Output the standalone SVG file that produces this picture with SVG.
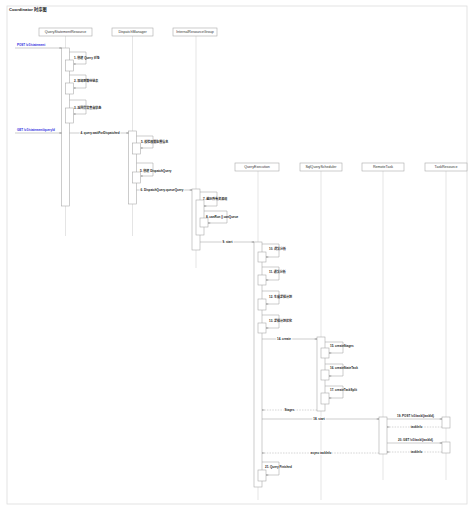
<svg xmlns="http://www.w3.org/2000/svg" width="474" height="511" viewBox="0 0 474 511">
<style>
text{font-family:"Liberation Sans",Arial,"Noto Sans CJK SC",sans-serif;}
.title{font-size:4.2px;font-weight:bold;fill:#222;}
.hdr rect{fill:#fff;stroke:#aaa;stroke-width:0.6;}
.hdr text{font-size:3.6px;fill:#333;text-anchor:middle;}
.life{stroke:#d4d4d4;stroke-width:0.6;fill:none;}
.act{fill:#fff;stroke:#aaa;stroke-width:0.6;}
.msg{stroke:#999;stroke-width:0.5;fill:none;marker-end:url(#ah);}
.ret{stroke:#aaa;stroke-width:0.5;fill:none;stroke-dasharray:1.5 1.2;marker-end:url(#ah);}
.lbl{font-size:3px;font-weight:bold;fill:#222;}
.onl{text-anchor:middle;paint-order:stroke;stroke:#fff;stroke-width:2px;}
.mid{text-anchor:middle;}
.blue{font-size:3px;font-weight:bold;fill:#2a2ae0;}
</style>
<defs>
<marker id="ah" viewBox="0 0 4 4" refX="4" refY="2" markerWidth="2.6" markerHeight="2.6" markerUnits="userSpaceOnUse" orient="auto">
<path d="M0,0.3 L4,2 L0,3.7" fill="none" stroke="#888" stroke-width="0.7"/>
</marker>
</defs>
<rect x="0" y="0" width="474" height="511" fill="#fff"/>
<rect x="7" y="6" width="460" height="498" fill="#fff" stroke="#ddd" stroke-width="0.8"/>
<text class="title" x="9" y="11">Coordinator 时序图</text>

<g id="lifelines">
<line class="life" x1="65.5" y1="36" x2="65.5" y2="236"/>
<line class="life" x1="132.5" y1="36" x2="132.5" y2="236"/>
<line class="life" x1="196" y1="36" x2="196" y2="268"/>
<line class="life" x1="258" y1="171" x2="258" y2="500"/>
<line class="life" x1="321" y1="171" x2="321" y2="500"/>
<line class="life" x1="383" y1="171" x2="383" y2="480"/>
<line class="life" x1="446" y1="171" x2="446" y2="480"/>
</g>

<g id="QueryStatementResource" class="hdr">
<rect x="39" y="28" width="53" height="8"/>
<text x="65.5" y="33.3">QueryStatementResource</text>
<rect class="act" x="61.5" y="48" width="8" height="158"/>
<rect class="act" x="65.5" y="60" width="8" height="11"/>
<rect class="act" x="65.5" y="83" width="8" height="11"/>
<rect class="act" x="65.5" y="108" width="8" height="15"/>
</g>
<g id="DispatchManager" class="hdr">
<rect x="112" y="28" width="41" height="8"/>
<text x="132.5" y="33.3">DispatchManager</text>
<rect class="act" x="128.5" y="131" width="8" height="73"/>
<rect class="act" x="132.5" y="143" width="8" height="11"/>
<rect class="act" x="132.5" y="172" width="8" height="11"/>
</g>
<g id="InternalResourceGroup" class="hdr">
<rect x="173" y="28" width="44" height="8"/>
<text x="195" y="33.3">InternalResourceGroup</text>
<rect class="act" x="192" y="189" width="8" height="61"/>
<rect class="act" x="196" y="200" width="8" height="35"/>
<rect class="act" x="200" y="218" width="8" height="9"/>
</g>
<g id="QueryExecution" class="hdr">
<rect x="235" y="163" width="44" height="8"/>
<text x="257" y="168.3">QueryExecution</text>
<rect class="act" x="254" y="242" width="8" height="245"/>
<rect class="act" x="258" y="252" width="8" height="10"/>
<rect class="act" x="258" y="275" width="8" height="10"/>
<rect class="act" x="258" y="299" width="8" height="11"/>
<rect class="act" x="258" y="323" width="8" height="10"/>
<rect class="act" x="258" y="470" width="8" height="11"/>
</g>
<g id="SqlQueryScheduler" class="hdr">
<rect x="300" y="163" width="42" height="8"/>
<text x="321" y="168.3">SqlQueryScheduler</text>
<rect class="act" x="317" y="337" width="8" height="74"/>
<rect class="act" x="321" y="348" width="8" height="10"/>
<rect class="act" x="321" y="370" width="8" height="10"/>
<rect class="act" x="321" y="393" width="8" height="11"/>
</g>
<g id="RemoteTask" class="hdr">
<rect x="362" y="163" width="42" height="8"/>
<text x="383" y="168.3">RemoteTask</text>
<rect class="act" x="379" y="417" width="8" height="37"/>
</g>
<g id="TaskResource" class="hdr">
<rect x="425" y="163" width="42" height="8"/>
<text x="446" y="168.3">TaskResource</text>
<rect class="act" x="442" y="417" width="8" height="11"/>
<rect class="act" x="442" y="442" width="8" height="11"/>
</g>

<g id="connectors">
<line class="msg" x1="15" y1="48" x2="61.5" y2="48"/>
<text class="blue" x="17" y="46">POST /v1/statement</text>
<path class="msg" d="M69.5,52 H86 V64 H73.5"/>
<text class="lbl" x="74" y="58.5">1. 创建 Query 对象</text>
<path class="msg" d="M69.5,75 H86 V88 H73.5"/>
<text class="lbl" x="74" y="82">2. 添加到等待链表</text>
<path class="msg" d="M69.5,100 H86 V114 H73.5"/>
<text class="lbl" x="74" y="109">3. 返回异常查询状态</text>

<line class="msg" x1="15" y1="133" x2="61.5" y2="133"/>
<text class="blue" x="17" y="130.5">GET /v1/statement/queryId</text>
<line class="msg" x1="69.5" y1="133" x2="128.5" y2="133"/>
<text class="lbl onl" x="100" y="134.1">4. query.waitForDispatched</text>
<path class="msg" d="M136.5,136 H153 V148 H140.5"/>
<text class="lbl" x="141" y="142.5">5. 校验权限配置信息</text>
<path class="msg" d="M136.5,163 H153 V176 H140.5"/>
<text class="lbl" x="140" y="172">5. 创建 DispatchQuery</text>
<line class="msg" x1="136.5" y1="190" x2="192" y2="190"/>
<text class="lbl onl" x="162" y="191.1">6. DispatchQuery.queueQuery</text>
<path class="msg" d="M200,192 H217 V206 H204"/>
<text class="lbl" x="203" y="199.5">7. 遍历所有资源组</text>
<path class="msg" d="M204,211 H227 V223 H208"/>
<text class="lbl" x="206" y="217.5">8. canRun || canQueue</text>
<line class="msg" x1="200" y1="242" x2="254" y2="242"/>
<text class="lbl onl" x="227.5" y="243.1">9. start</text>

<path class="msg" d="M262,244 H279 V257 H266"/>
<text class="lbl" x="269" y="250">10. 词法分析</text>
<path class="msg" d="M262,267 H279 V280 H266"/>
<text class="lbl" x="269" y="273">11. 语法分析</text>
<path class="msg" d="M262,291 H279 V304 H266"/>
<text class="lbl" x="269" y="298">12. 生成逻辑计划</text>
<path class="msg" d="M262,315 H279 V328 H266"/>
<text class="lbl" x="269" y="321.5">13. 逻辑计划优化</text>

<line class="msg" x1="262" y1="339" x2="317" y2="339"/>
<text class="lbl onl" x="284" y="340.1">14. create</text>
<path class="msg" d="M325,342 H343 V353 H329"/>
<text class="lbl" x="330" y="346.5">15. createStages</text>
<path class="msg" d="M325,364 H343 V376 H329"/>
<text class="lbl" x="330" y="368.5">16. createStateTask</text>
<path class="msg" d="M325,386 H343 V398 H329"/>
<text class="lbl" x="330" y="391">17. createTaskSplit</text>
<line class="ret" x1="317" y1="410" x2="262" y2="410"/>
<text class="lbl onl" x="289.5" y="411.1">Stages</text>

<line class="msg" x1="262" y1="419" x2="379" y2="419"/>
<text class="lbl onl" x="319" y="420.1">18. start</text>
<line class="msg" x1="387" y1="419" x2="442" y2="419"/>
<text class="lbl mid" x="415.5" y="416.5">19. POST /v1/task/{taskId}</text>
<line class="ret" x1="442" y1="427" x2="387" y2="427"/>
<text class="lbl onl" x="416.5" y="428.1">taskInfo</text>
<line class="msg" x1="387" y1="443" x2="442" y2="443"/>
<text class="lbl mid" x="415.5" y="440.5">20. GET /v1/task/{taskId}</text>
<line class="ret" x1="442" y1="452" x2="387" y2="452"/>
<text class="lbl onl" x="416.5" y="453.1">taskInfo</text>
<line class="ret" x1="379" y1="453" x2="262" y2="453"/>
<text class="lbl onl" x="321" y="454.1">async taskInfo</text>

<path class="msg" d="M262,462 H279 V475 H266"/>
<text class="lbl" x="265" y="468">21. Query Finished</text>
</g>
</svg>
